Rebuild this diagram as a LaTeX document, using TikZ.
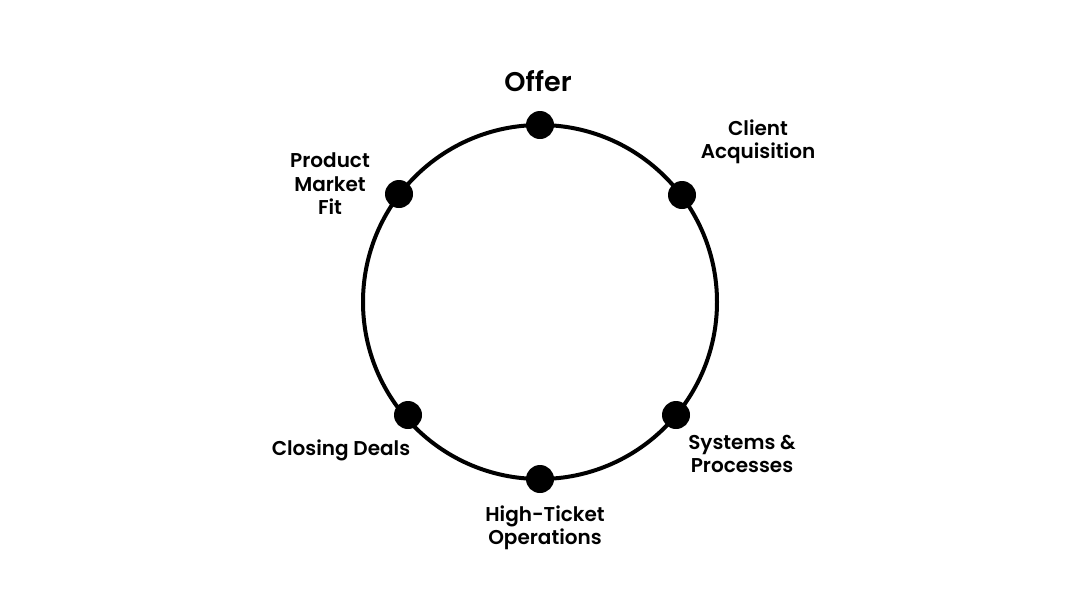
\documentclass[tikz,border=0pt]{standalone}
\usepackage{fontspec}
\setmainfont{Poppins}[BoldFont={* SemiBold}]
\begin{document}
\begin{tikzpicture}[x=1pt,y=-1pt,
  dot/.style={circle,fill=black,inner sep=0,minimum size=28pt},
  lab/.style={font=\fontsize{20}{23.5}\selectfont\bfseries,align=center,inner sep=0}]
\useasboundingbox (0,0) rectangle (1080,600);
\node[circle,draw,line width=4pt,minimum size=354pt,inner sep=0] (c) at (540,302) {};
\node[dot] (d1) at (540,125) {};
\node[dot] (d2) at (682,195) {};
\node[dot] (d3) at (676,415) {};
\node[dot] (d4) at (540,479) {};
\node[dot] (d5) at (408,415) {};
\node[dot] (d6) at (399,194) {};
\node[lab,font=\fontsize{27}{30}\selectfont\bfseries] (l1) at (538,81) {Offer};
\node[lab] (l2) at (758,142) {Client\\Acquisition};
\node[lab] (l3) at (742,454) {Systems \&\\Processes};
\node[lab] (l4) at (545,528) {High-Ticket\\Operations};
\node[lab] (l5) at (341,450) {Closing Deals};
\node[lab] (l6) at (330,184) {Product\\Market\\Fit};
\end{tikzpicture}
\end{document}
